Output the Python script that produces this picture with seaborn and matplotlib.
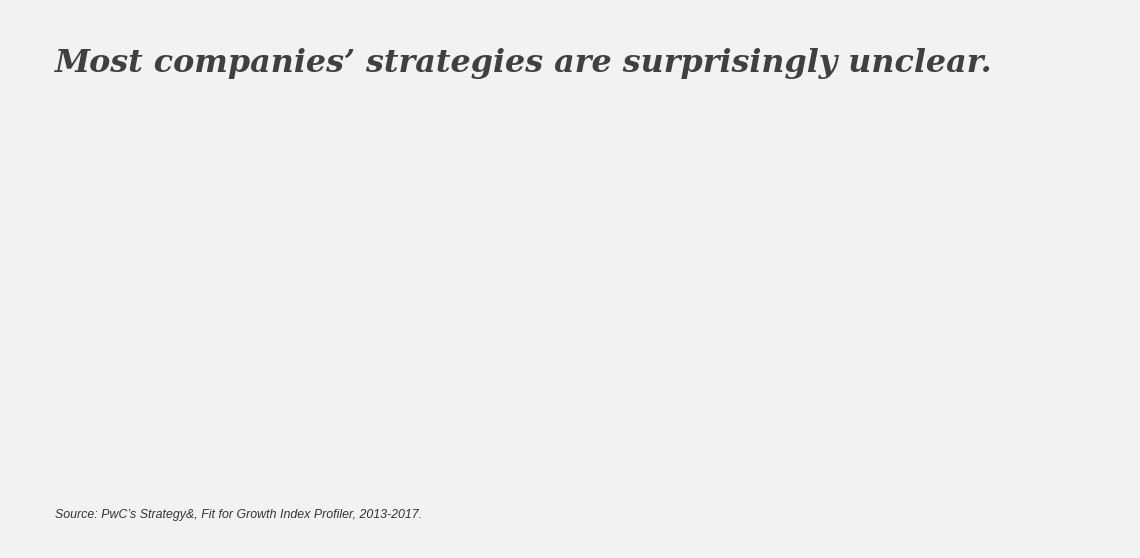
import matplotlib
matplotlib.use("Agg")
import matplotlib.pyplot as plt
import seaborn as sns
import pandas as pd

# The reference chart area is blank: no marks are visible.
categories = []
values = []

title_text = "Most companies\u2019 strategies are surprisingly unclear."
source_text = "Source: PwC\u2019s Strategy&, Fit for Growth Index Profiler, 2013-2017."

BG = "#f2f2f2"
sns.set_theme(style="white", rc={"figure.facecolor": BG, "axes.facecolor": BG})

fig = plt.figure(figsize=(11.4, 5.58), dpi=100)
ax = fig.add_axes([0.048, 0.12, 0.94, 0.7])
df = pd.DataFrame({"category": categories, "value": values})
if len(df):
    sns.barplot(data=df, x="category", y="value", ax=ax)
ax.set_axis_off()

title = fig.text(55 / 1140, 1 - 72 / 558, title_text, fontsize=22.5, fontweight="bold",
                 fontstyle="italic", family=["DejaVu Serif"], color="#404040",
                 ha="left", va="baseline")
src = fig.text(55 / 1140, 1 - 518 / 558, source_text, fontsize=9.0, fontstyle="italic",
               family=["Liberation Sans"], color="#333333", ha="left", va="baseline")

# fit text widths to the reference's measured extents
fig.canvas.draw()
r = fig.canvas.get_renderer()
for t, target in ((title, 938.0), (src, 367.0)):
    w = t.get_window_extent(r).width
    t.set_fontsize(t.get_fontsize() * target / w)

fig.savefig("out.png", dpi=100, facecolor=BG)
